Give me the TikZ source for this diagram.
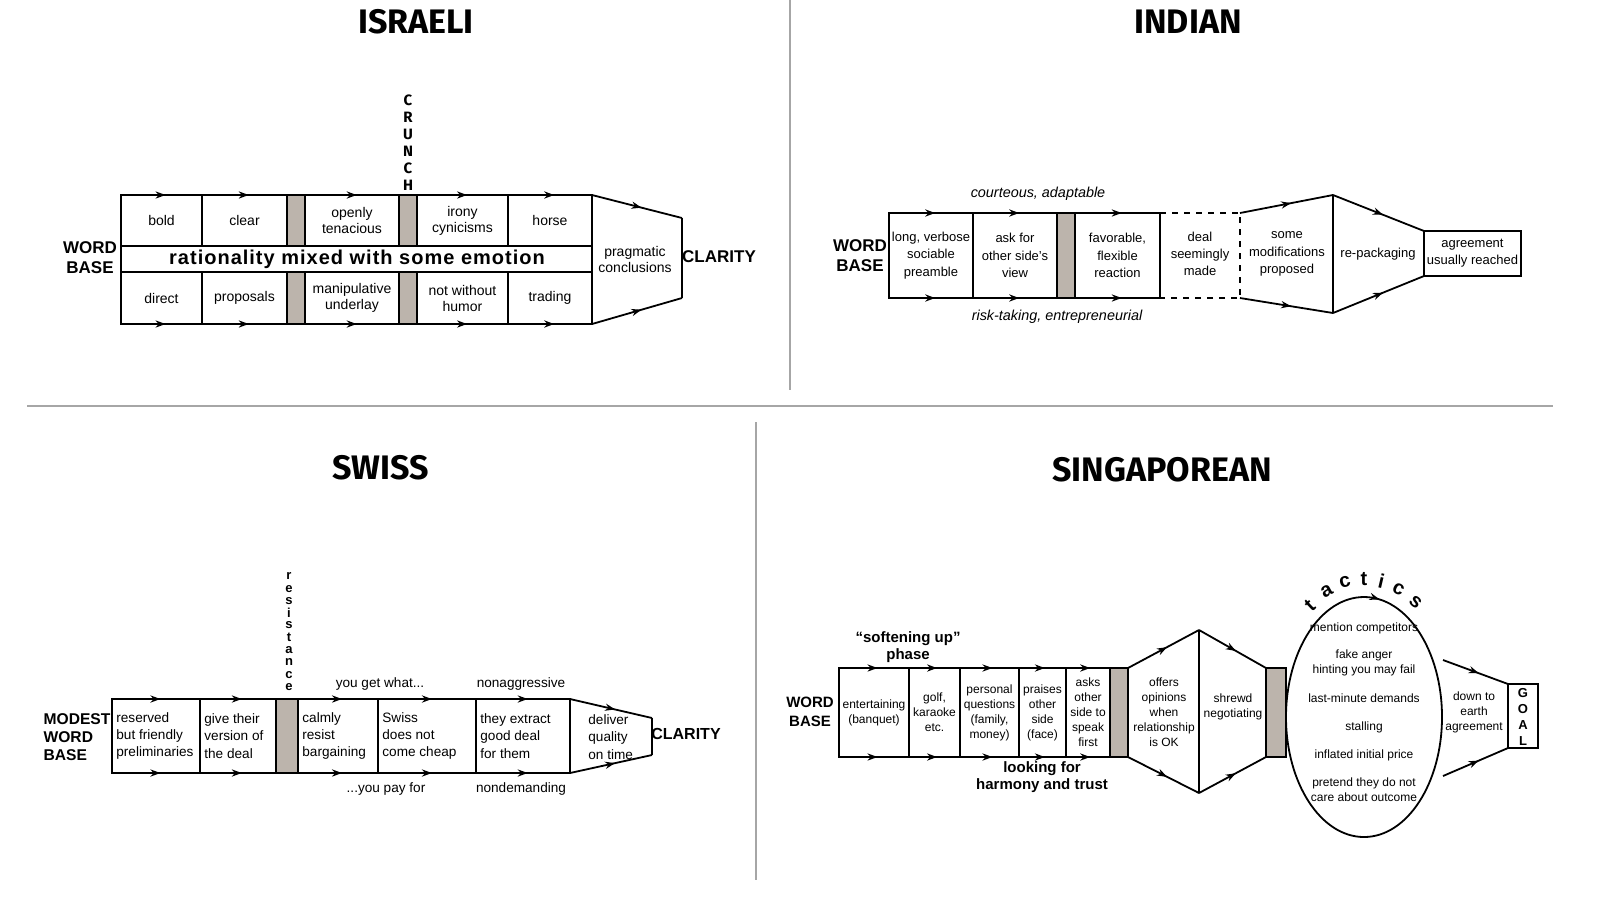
\documentclass[tikz,border=0pt]{standalone}
\usepackage{fontspec}
\setmainfont{Liberation Sans}
\newfontfamily\titlefont{Fira Sans}
\usetikzlibrary{decorations.markings,arrows.meta}
\definecolor{gfill}{RGB}{188,180,172}
\newcommand{\cbox}[6]{\draw[box] (#1,#2) rectangle (#3,#4); \node[txt] (#5) at ({(#1+#3)/2},{(#2+#4)/2}) {#6};}
\newcommand{\lbox}[6]{\draw[box] (#1,#2) rectangle (#3,#4); \node[txt,align=left,anchor=west] (#5) at ({#1+4},{(#2+#4)/2}) {#6};}
\newcommand{\gbox}[4]{\draw[box,fill=gfill] (#1,#2) rectangle (#3,#4);}
\newcommand{\aline}[4]{\draw[box,midarrow] (#1,#2) -- (#3,#4);}
\begin{document}
\begin{tikzpicture}[x=0.5pt,y=-0.5pt,
  box/.style={line width=0.9pt,line join=miter},
  midarrow/.style={postaction={decorate},decoration={markings,mark=at position 0.55 with {\arrow{Stealth[length=5pt,width=3.6pt]}}}},
  txt/.style={font=\fontsize{7}{8}\selectfont,align=center,inner sep=0pt},
  lab/.style={font=\fontsize{7.5}{8.8}\selectfont\bfseries,align=center,inner sep=0pt},
  ttl/.style={font=\titlefont\fontsize{17}{19}\selectfont\bfseries,inner sep=0pt},
  vl/.style={font=\titlefont\fontsize{7.5}{8}\selectfont\bfseries,inner sep=0pt}]
\useasboundingbox (0,0) rectangle (1600,907);
\fill[white] (0,0) rectangle (1600,907);
% dividers
\draw[gray!70,line width=0.6pt] (790,0) -- (790,390);
\draw[gray!70,line width=0.6pt] (27,406) -- (1553,406);
\draw[gray!70,line width=0.6pt] (756,422) -- (756,880);
% titles
\node[ttl] (t1) at (416,22) {ISRAELI};
\node[ttl] (t2) at (1188,22) {INDIAN};
\node[ttl] (t3) at (381,468) {SWISS};
\node[ttl] (t4) at (1162,470) {SINGAPOREAN};

%% ISRAELI
\cbox{121}{195}{202}{246}{ia}{bold}
\cbox{202}{195}{287}{246}{ib}{clear}
\gbox{287}{195}{305}{246}
\cbox{305}{195}{399}{246}{ic}{openly\\tenacious}
\gbox{399}{195}{417}{246}
\cbox{417}{195}{508}{246}{id}{irony\\cynicisms}
\cbox{508}{195}{592}{246}{ie}{horse}
\draw[box] (121,246) rectangle (592,272);
\node[inner sep=0pt,font=\fontsize{10}{11}\selectfont\bfseries\addfontfeature{LetterSpace=5}] (im) at (357,259) {rationality mixed with some emotion};
\cbox{121}{272}{202}{324}{ja}{direct}
\cbox{202}{272}{287}{324}{jb}{proposals}
\gbox{287}{272}{305}{324}
\cbox{305}{272}{399}{324}{jc}{manipulative\\underlay}
\gbox{399}{272}{417}{324}
\cbox{417}{272}{508}{324}{jd}{not without\\humor}
\cbox{508}{272}{592}{324}{je}{trading}
\foreach \a/\b in {121/202,202/287,305/399,417/508,508/592}{\aline{\a}{195}{\b}{195}\aline{\a}{324}{\b}{324}}
\aline{592}{195}{682}{218}
\aline{592}{324}{682}{298}
\draw[box] (682,218) -- (682,298);
\node[txt] (ip) at (635,259) {pragmatic\\conclusions};
\node[lab,font=\fontsize{8.5}{10}\selectfont\bfseries] (iw) at (90,258) {WORD\\BASE};
\node[lab,font=\fontsize{8.5}{10}\selectfont\bfseries] (icl) at (719,257) {CLARITY};
\foreach \c [count=\i] in {C,R,U,N,C,H}{\node[vl] (cr\i) at (408,{83+17*\i}) {\c};}

%% INDIAN
\begin{scope}[txt/.append style={font=\fontsize{6.5}{8.6}\selectfont}]
\cbox{889}{213}{973}{298}{na}{long, verbose\\sociable\\preamble}
\cbox{973}{213}{1057}{298}{nb}{ask for\\other side's\\view}
\gbox{1057}{213}{1075}{298}
\cbox{1075}{213}{1160}{298}{nc}{favorable,\\flexible\\reaction}
\draw[box,dashed] (1160,213) -- (1240,213) -- (1240,298) -- (1160,298);
\node[txt] (nd) at (1200,254) {deal\\seemingly\\made};
\foreach \a/\b in {889/973,973/1057,1075/1160}{\aline{\a}{213}{\b}{213}\aline{\a}{298}{\b}{298}}
\aline{1240}{213}{1333}{195}
\aline{1240}{298}{1333}{313}
\aline{1333}{195}{1424}{231}
\aline{1333}{313}{1424}{276}
\draw[box] (1333,195) -- (1333,313);
\node[txt] (ne) at (1287,254) {some\\modifications\\proposed};
\node[txt] (nf) at (1378,254) {re-packaging};
\cbox{1424}{231}{1521}{276}{ng}{agreement\\usually reached}
\end{scope}
\node[txt,font=\fontsize{7.2}{8}\selectfont\itshape] (nt) at (1038,194) {courteous, adaptable};
\node[txt,font=\fontsize{7.2}{8}\selectfont\itshape] (nbt) at (1057,317) {risk-taking, entrepreneurial};
\node[lab,font=\fontsize{8.5}{10}\selectfont\bfseries] (nw) at (860,256) {WORD\\BASE};

%% SWISS
\begin{scope}[txt/.append style={font=\fontsize{6.8}{8.6}\selectfont}]
\lbox{112}{699}{200}{773}{sa}{reserved\\but friendly\\preliminaries}
\lbox{200}{699}{276}{773}{sb}{give their\\version of\\the deal}
\gbox{276}{699}{298}{773}
\lbox{298}{699}{378}{773}{sc}{calmly\\resist\\bargaining}
\lbox{378}{699}{476}{773}{sd}{Swiss\\does not\\come cheap}
\lbox{476}{699}{570}{773}{se}{they extract\\good deal\\for them}
\foreach \a/\b in {112/200,200/276,298/378,378/476,476/570}{\aline{\a}{699}{\b}{699}\aline{\a}{773}{\b}{773}}
\aline{570}{699}{652}{718}
\aline{570}{773}{652}{755}
\draw[box] (652,718) -- (652,755);
\node[txt,align=left,anchor=west] (sf) at (588,737) {deliver\\quality\\on time};
\node[txt] (sg) at (380,684) {you get what...};
\node[txt] (sh) at (386,789) {...you pay for};
\node[txt] (si) at (521,684) {nonaggressive};
\node[txt] (sj) at (521,789) {nondemanding};
\end{scope}
\node[lab,font=\fontsize{7.8}{9}\selectfont\bfseries,align=left] (sw) at (77,737) {MODEST\\WORD\\BASE};
\node[lab,font=\fontsize{8}{10}\selectfont\bfseries] (scl) at (686,734) {CLARITY};
\foreach \c [count=\i] in {r,e,s,i,s,t,a,n,c,e}{\node[inner sep=0pt,font=\fontsize{6.5}{7}\selectfont\bfseries] (rs\i) at (289,{564+12.3*\i}) {\c};}

%% SINGAPOREAN
\begin{scope}[txt/.append style={font=\fontsize{6}{7.5}\selectfont}]
\cbox{839}{668}{909}{757}{ga}{entertaining\\(banquet)}
\cbox{909}{668}{960}{757}{gb}{golf,\\karaoke\\etc.}
\cbox{960}{668}{1019}{757}{gc}{personal\\questions\\(family,\\money)}
\cbox{1019}{668}{1066}{757}{gd}{praises\\other\\side\\(face)}
\cbox{1066}{668}{1110}{757}{ge}{asks\\other\\side to\\speak\\first}
\gbox{1110}{668}{1128}{757}
\foreach \a/\b in {839/909,909/960,960/1019,1019/1066,1066/1110}{\aline{\a}{668}{\b}{668}\aline{\a}{757}{\b}{757}}
\aline{1128}{668}{1199}{630}
\aline{1128}{757}{1199}{793}
\aline{1199}{630}{1266}{668}
\aline{1199}{793}{1266}{757}
\draw[box] (1199,630) -- (1199,793);
\gbox{1266}{668}{1286}{757}
\node[txt] (gf) at (1164,712) {offers\\opinions\\when\\relationship\\is OK};
\node[txt] (gg) at (1233,707) {shrewd\\negotiating};
\draw[box,midarrow] (1286,717) arc[start angle=180,end angle=360,x radius=78,y radius=120];
\draw[box] (1442,717) arc[start angle=0,end angle=180,x radius=78,y radius=120];
\node[txt] (h1) at (1364,628) {mention competitors};
\node[txt] (h2) at (1364,663) {fake anger\\hinting you may fail};
\node[txt] (h3) at (1364,698) {last-minute demands};
\node[txt] (h4) at (1364,727) {stalling};
\node[txt] (h5) at (1364,755) {inflated initial price};
\node[txt] (h6) at (1364,790) {pretend they do not\\care about outcome};
\aline{1443}{660}{1508}{684}
\aline{1443}{776}{1508}{748}
\cbox{1508}{684}{1538}{748}{gz}{}
\node[txt] (gh) at (1474,712) {down to\\earth\\agreement};
\end{scope}
\foreach \c [count=\i] in {G,O,A,L}{\node[inner sep=0pt,font=\fontsize{6.5}{7}\selectfont\bfseries] (go\i) at (1523,{677+16*\i}) {\c};}
\node[lab,font=\fontsize{7.5}{9.5}\selectfont\bfseries] (gw) at (810,712) {WORD\\BASE};
\node[lab] (gs) at (908,647) {``softening up''\\phase};
\node[lab] (gl) at (1042,777) {looking for\\harmony and trust};
\foreach \c/\t [count=\i] in {t/-36,a/-24,c/-12,t/0,i/11,c/22,s/34}{\node[inner sep=0pt,font=\fontsize{10}{11}\selectfont\bfseries,rotate={-1.2*\t}] (tc\i) at ({1364+92*sin(\t)},{717-138*cos(\t)}) {\c};}
\end{tikzpicture}
\end{document}
